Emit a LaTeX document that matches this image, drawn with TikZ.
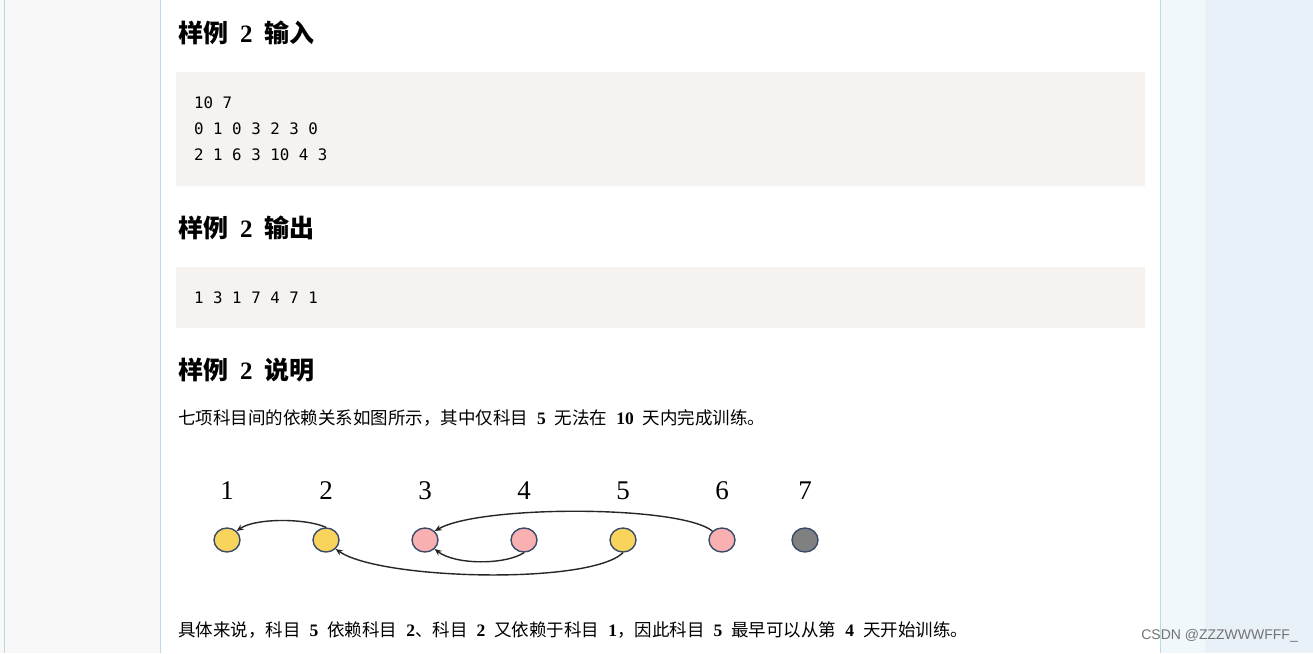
\documentclass[tikz,border=0pt]{standalone}
\usepackage{fontspec}
\setmainfont{Liberation Serif}
\newfontfamily\cjk{Noto Sans CJK SC}
\newfontfamily\codef{DejaVu Sans Mono}
\newfontfamily\numf{Liberation Serif}
\newfontfamily\sansf{Liberation Sans}
\usetikzlibrary{arrows.meta,shapes.geometric}
\definecolor{leftbg}{HTML}{F8F8F8}
\definecolor{edge}{HTML}{BCD8E6}
\definecolor{rbg1}{HTML}{F0F8FC}
\definecolor{rbg2}{HTML}{E8F0F8}
\definecolor{codebg}{HTML}{F5F2EF}
\definecolor{yel}{HTML}{F9D45C}
\definecolor{pnk}{HTML}{F8B0B0}
\definecolor{gry}{HTML}{808080}
\definecolor{ring}{HTML}{3A4A6A}
\newcommand{\hn}[1]{\hspace{12pt}{\numf #1}\hspace{12pt}}
\newcommand{\bn}[1]{\hspace{9pt}{\numf\bfseries #1}\hspace{9pt}}
\newcommand{\bl}[1]{\hspace{9pt}{\numf\bfseries #1}}
\tikzset{
 heading/.style={anchor=west,inner sep=0pt,font=\cjk\fontsize{25}{25}\selectfont\bfseries},
 codeline/.style={anchor=west,inner sep=0pt,font=\codef\fontsize{15.8}{15.8}\selectfont},
 body/.style={anchor=west,inner sep=0pt,font=\cjk\fontsize{17.5}{17.5}\selectfont},
 lab/.style={inner sep=0pt,font=\numf\fontsize{27}{27}\selectfont},
 vtx/.style={ellipse,minimum width=26pt,minimum height=24pt,inner sep=0pt,draw=ring,line width=1.4pt},
 arc/.style={-{Stealth[length=7pt,width=6pt]},line width=1.4pt,draw=black!85}
}
\begin{document}
\begin{tikzpicture}[x=1pt,y=-1pt]
\useasboundingbox (0,0) rectangle (1313,653);
\fill[leftbg] (0,0) rectangle (160,653);
\fill[white] (160,0) rectangle (1160,653);
\fill[rbg1] (1160,0) rectangle (1205,653);
\fill[rbg2] (1205,0) rectangle (1313,653);
\draw[edge,line width=1pt] (4,0) -- (4,653);
\draw[edge,line width=1pt] (160.5,0) -- (160.5,653);
\draw[edge,line width=1pt] (1160.5,0) -- (1160.5,653);
\fill[codebg] (176,72) rectangle (1145,186);
\fill[codebg] (176,267) rectangle (1145,328);
\node[heading] (h1) at (178,33) {样例\hn{2}输入};
\node[codeline] (c1) at (194,103) {10 7};
\node[codeline] (c2) at (194,129) {0 1 0 3 2 3 0};
\node[codeline] (c3) at (194,155) {2 1 6 3 10 4 3};
\node[heading] (h2) at (178,228) {样例\hn{2}输出};
\node[codeline] (c4) at (194,298) {1 3 1 7 4 7 1};
\node[heading] (h3) at (178,370) {样例\hn{2}说明};
\node[body] (t1) at (178,418) {七项科目间的依赖关系如图所示，其中仅科目\bn{5}无法在\bn{10}天内完成训练。};
\node[body] (t2) at (178,630) {具体来说，科目\bn{5}依赖科目\bl{2}、科目\bn{2}又依赖于科目\bl{1}，因此科目\bn{5}最早可以从第\bn{4}天开始训练。};
\node[anchor=east,inner sep=0pt,text=black!55,font=\sansf\fontsize{14}{14}\selectfont] (wm) at (1298,636) {CSDN @ZZZWWWFFF\_};
\foreach \i/\x/\c in {1/227/yel,2/326/yel,3/425/pnk,4/524/pnk,5/623/yel,6/722/pnk,7/805/gry}{
  \node[lab] (l\i) at (\x,491) {\i};
  \node[vtx,fill=\c] (v\i) at (\x,540) {};
}
\draw[arc] (v2.north) .. controls (305,518) and (255,518) .. (v1.north east);
\draw[arc] (v6.north west) .. controls (680,505) and (480,505) .. (v3.north east);
\draw[arc] (v4.south) .. controls (505,565) and (455,565) .. (v3.south east);
\draw[arc] (v5.south) .. controls (590,585) and (380,580) .. (v2.south east);
\end{tikzpicture}
\end{document}
